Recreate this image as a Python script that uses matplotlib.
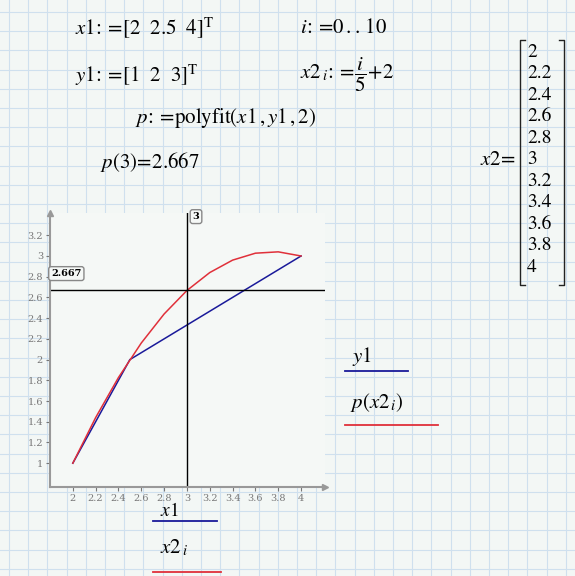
import matplotlib.pyplot as plt
import numpy as np

x1 = [2, 2.5, 4]
y1 = [1, 2, 3]
x2 = [2.0, 2.2, 2.4, 2.6, 2.8, 3.0, 3.2, 3.4, 3.6, 3.8, 4.0]
p_x2 = [1.0, 1.44, 1.827, 2.16, 2.44, 2.667, 2.84, 2.96, 3.027, 3.04, 3.0]
xticks = [2, 2.2, 2.4, 2.6, 2.8, 3, 3.2, 3.4, 3.6, 3.8, 4]
yticks = [1, 1.2, 1.4, 1.6, 1.8, 2, 2.2, 2.4, 2.6, 2.8, 3, 3.2]
x_mark, y_mark = 3, 2.667

plt.rcParams['mathtext.fontset'] = 'stix'
plt.rcParams['font.family'] = 'DejaVu Serif'
W, H = 575, 576
fig = plt.figure(figsize=(W / 100, H / 100), dpi=100)
fig.patch.set_facecolor('#f3f7f5')

# worksheet grid
bg = fig.add_axes([0, 0, 1, 1])
bg.set_xlim(0, W)
bg.set_ylim(H, 0)
bg.axis('off')
for g in np.arange(9, W, 19.2):
    bg.axvline(g, color='#cfe0ee', lw=0.8)
for g in np.arange(12, H, 19.2):
    bg.axhline(g, color='#cfe0ee', lw=0.8)

def txt(x, y, s, size=15, **kw):
    bg.text(x, y, s, fontsize=size, va='center', ha='left', family='STIXGeneral', **kw)

txt(75, 28, r'$x1\!:=\!\left[2\ \ 2.5\ \ 4\right]^{\mathrm{T}}$')
txt(75, 75, r'$y1\!:=\!\left[1\ \ 2\ \ 3\right]^{\mathrm{T}}$')
txt(135, 118, r'$p\!:=\!\mathrm{polyfit}\left(x1\,,y1\,,2\right)$')
txt(100, 162, r'$p\left(3\right)\!=\!2.667$')
txt(300, 28, r'$i\!:=\!0\,..\,10$')
txt(300, 75, r'$x2_{\,i}\!:=\!\dfrac{i}{5}\!+\!2$')
txt(480, 160, r'$x2\!=$')
for k, v in enumerate(x2):
    bg.text(527, 52 + k * 21.5, '%g' % v, fontsize=14, va='center', family='STIXGeneral')
bg.plot([525, 520, 520, 525], [40, 40, 285, 285], color='#222', lw=1)
bg.plot([559, 564, 564, 559], [40, 40, 285, 285], color='#222', lw=1)

# legends
txt(160, 511, r'$x1$', size=14)
bg.plot([153, 217], [521, 521], color='#1a1a9a', lw=1.3)
txt(160, 548, r'$x2_{\,i}$')
bg.plot([153, 221], [572, 572], color='#e0303a', lw=1.3)
txt(352, 357, r'$y1$')
bg.plot([345, 408], [371, 371], color='#1a1a9a', lw=1.3)
txt(350, 402, r'$p\left(x2_{\,i}\right)$')
bg.plot([345, 438], [425, 425], color='#e0303a', lw=1.3)

# chart
ax = fig.add_axes([50 / W, 1 - 487 / H, 275 / W, 274 / H])
ax.set_facecolor('#f5f8f6')
ax.set_xlim(1.8, 4.21)
ax.set_ylim(0.77, 3.415)
for s in ['top', 'right']:
    ax.spines[s].set_visible(False)
for s in ['left', 'bottom']:
    ax.spines[s].set_color('#999')
    ax.spines[s].set_linewidth(1.5)
ax.plot(1, 0, '>', color='#999', ms=5, transform=ax.transAxes, clip_on=False)
ax.plot(0, 1, '^', color='#999', ms=5, transform=ax.transAxes, clip_on=False)
ax.set_xticks(xticks)
ax.set_yticks(yticks)
ax.set_xticklabels(['%g' % t for t in xticks])
ax.set_yticklabels(['%g' % t for t in yticks])
ax.tick_params(labelsize=7, colors='#777', length=3, pad=2)
ax.plot(x1, y1, color='#1a1a9a', lw=1.1)
ax.plot(x2, p_x2, color='#e0303a', lw=1.1)
ax.axvline(x_mark, color='black', lw=1)
ax.axhline(y_mark, color='black', lw=1)
ax.text(3.05, 3.38, '3', fontsize=7, fontweight='bold', va='center',
        bbox=dict(boxstyle='round,pad=0.25', fc='#f5f8f6', ec='#888'))
ax.text(1.81, 2.83, '2.667', fontsize=7, fontweight='bold', va='center',
        bbox=dict(boxstyle='round,pad=0.25', fc='#f5f8f6', ec='#888'), clip_on=False)

fig.savefig('out.png', dpi=100)
